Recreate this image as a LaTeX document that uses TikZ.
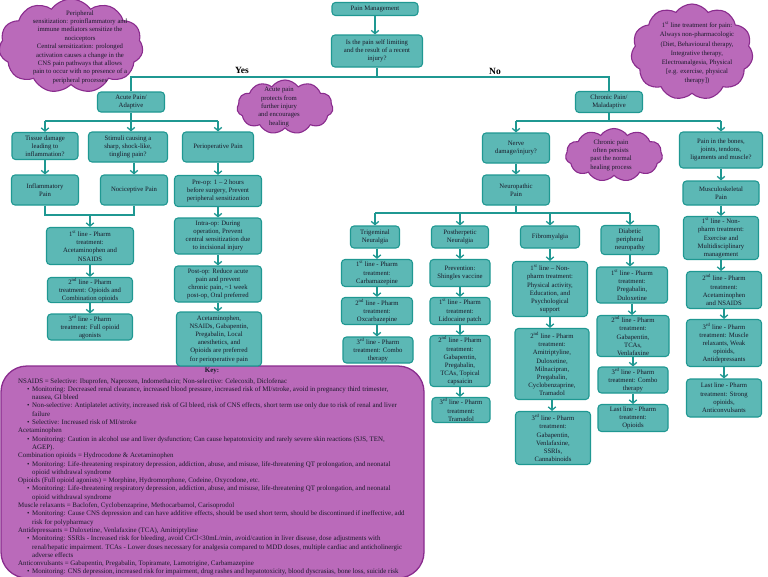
\documentclass[tikz,border=0pt]{standalone}
\usepackage{fontspec}
\setmainfont{Liberation Serif}
\usetikzlibrary{shapes.symbols,arrows.meta}
\definecolor{tealfill}{HTML}{5CB8B5}
\definecolor{tealline}{HTML}{1F9892}
\definecolor{purfill}{HTML}{BA6ABA}
\definecolor{purline}{HTML}{8A2C8E}
\definecolor{txt}{HTML}{1A1A2A}
\newcommand{\keybul}{\hspace*{9pt}\makebox[5pt][l]{\textbullet}}
\newcommand{\keyind}{\hspace*{14pt}}
\newcommand{\sps}[1]{\textsuperscript{#1}}
\begin{document}
\begin{tikzpicture}[x=1pt,y=-1pt,
 box/.style={draw=tealline, fill=tealfill, line width=1.1pt, rounded corners=3.5pt, align=center, inner sep=0.5pt, font=\fontsize{6.7}{8.2}\selectfont, text=txt},
 conn/.style={draw=tealline, line width=1.3pt},
 arr/.style={conn, -{Straight Barb[length=3.2pt,width=7.5pt]}},
 puff/.style={cloud, cloud puffs=11, cloud puff arc=110, cloud ignores aspect, draw=purline, fill=purfill, line width=1.1pt, inner sep=0pt},
 ctext/.style={align=center, font=\fontsize{6.7}{8.4}\selectfont, text=txt, inner sep=0pt},
 keybox/.style={draw=purline, fill=purfill, line width=1.3pt, rounded corners=26pt, inner sep=0pt},
 keytext/.style={align=left, font=\fontsize{6.9}{8.3}\selectfont, text=txt, inner sep=0pt},
 yn/.style={font=\fontsize{9.5}{10}\selectfont\bfseries, text=black, inner sep=0pt}
]
\fill[white] (0,0) rectangle (768,576);
\useasboundingbox (0,0) rectangle (768,576);

% clouds
\node[puff, minimum width=144pt, minimum height=94pt] (cl1) at (71,46) {};
\node[ctext] (cl1t) at (80,47) {Peripheral\\sensitization: proinflammatory and\\immune mediators sensitize the\\nociceptors\\Central sensitization: prolonged\\activation causes a change in the\\CNS pain pathways that allows\\pain to occur with no presence of a\\peripheral processes};
\node[puff, minimum width=96pt, minimum height=54pt] (cl2) at (285,107) {};
\node[ctext] (cl2t) at (279,107) {Acute pain\\protects from\\further injury\\and encourages\\healing};
\node[puff, minimum width=122pt, minimum height=96pt] (cl3) at (692,52) {};
\node[ctext, font=\fontsize{6.7}{9.1}\selectfont] (cl3t) at (697,53) {1\sps{st} line treatment for pain:\\Always non-pharmacologic\\(Diet, Behavioural therapy,\\Integrative therapy,\\Electroanalgesia, Physical\\{[e.g.} exercise, physical\\therapy])};
\node[puff, minimum width=97pt, minimum height=53pt] (cl4) at (614,155) {};
\node[ctext] (cl4t) at (611,155) {Chronic pain\\often persists\\past the normal\\healing process};

% key
\node[keybox, minimum width=423pt, minimum height=212pt] (key) at (212.5,472) {};
\node[keytext, font=\fontsize{6.9}{8.3}\selectfont\bfseries] (keyh) at (212,371) {Key:};
\node[keytext, anchor=north west] (keybody) at (18,378) {NSAIDS = Selective: Ibuprofen, Naproxen, Indomethacin; Non-selective: Celecoxib, Diclofenac\\
\keybul Monitoring: Decreased renal clearance, increased blood pressure, increased risk of MI/stroke, avoid in pregnancy third trimester,\\
\keyind nausea, GI bleed\\
\keybul Non-selective: Antiplatelet activity, increased risk of GI bleed, risk of CNS effects, short term use only due to risk of renal and liver\\
\keyind failure\\
\keybul Selective: Increased risk of MI/stroke\\
Acetaminophen\\
\keybul Monitoring: Caution in alcohol use and liver dysfunction; Can cause hepatotoxicity and rarely severe skin reactions (SJS, TEN,\\
\keyind AGEP).\\
Combination opioids = Hydrocodone \& Acetaminophen\\
\keybul Monitoring: Life-threatening respiratory depression, addiction, abuse, and misuse, life-threatening QT prolongation, and neonatal\\
\keyind opioid withdrawal syndrome\\
Opioids (Full opioid agonists) = Morphine, Hydromorphone, Codeine, Oxycodone, etc.\\
\keybul Monitoring: Life-threatening respiratory depression, addiction, abuse, and misuse, life-threatening QT prolongation, and neonatal\\
\keyind opioid withdrawal syndrome\\
Muscle relaxants = Baclofen, Cyclobenzaprine, Methocarbamol, Carisoprodol\\
\keybul Monitoring: Cause CNS depression and can have additive effects, should be used short term, should be discontinued if ineffective, add\\
\keyind risk for polypharmacy\\
Antidepressants = Duloxetine, Venlafaxine (TCA), Amitriptyline\\
\keybul Monitoring: SSRIs - Increased risk for bleeding, avoid CrCl<30mL/min, avoid/caution in liver disease, dose adjustments with\\
\keyind renal/hepatic impairment. TCAs - Lower doses necessary for analgesia compared to MDD doses, multiple cardiac and anticholinergic\\
\keyind adverse effects\\
Anticonvulsants = Gabapentin, Pregabalin, Topiramate, Lamotrigine, Carbamazepine\\
\keybul Monitoring: CNS depression, increased risk for impairment, drug rashes and hepatotoxicity, blood dyscrasias, bone loss, suicide risk};

% top
\node[box, minimum width=86pt, minimum height=13pt] (pm) at (375,9) {Pain Management};
\node[box, minimum width=91pt, minimum height=32pt] (q) at (377,51) {Is the pain self limiting\\and the result of a recent\\injury?};
\node[yn] (yes) at (242,70) {Yes};
\node[yn] (no) at (495,71) {No};

% acute side
\node[box, minimum width=67pt, minimum height=20pt] (acute) at (131,102) {Acute Pain/\\Adaptive};
\node[box, minimum width=66pt, minimum height=27pt] (tissue) at (45,146) {Tissue damage\\leading to\\inflammation?};
\node[box, minimum width=79pt, minimum height=30pt] (stim) at (128,147) {Stimuli causing a\\sharp, shock-like,\\tingling pain?};
\node[box, minimum width=71pt, minimum height=30pt] (peri) at (218,147) {Perioperative Pain};
\node[box, minimum width=67pt, minimum height=30pt] (infl) at (45,190) {Inflammatory\\Pain};
\node[box, minimum width=67pt, minimum height=30pt] (noci) at (134,190) {Nociceptive Pain};
\node[box, minimum width=87pt, minimum height=37pt] (a1) at (90,246) {1\sps{st} line - Pharm\\treatment:\\Acetaminophen and\\NSAIDS};
\node[box, minimum width=85pt, minimum height=25pt] (a2) at (90,290) {2\sps{nd} line - Pharm\\treatment: Opioids and\\Combination opioids};
\node[box, minimum width=85pt, minimum height=26pt] (a3) at (90,327) {3\sps{rd} line - Pharm\\treatment: Full opioid\\agonists};
\node[box, minimum width=87pt, minimum height=31pt] (pre) at (218,191) {Pre-op: 1 -- 2 hours\\before surgery, Prevent\\peripheral sensitization};
\node[box, minimum width=87pt, minimum height=36pt] (intra) at (218,236) {Intra-op: During\\operation, Prevent\\central sensitization due\\to incisional injury};
\node[box, minimum width=87pt, minimum height=36pt] (post) at (218,284) {Post-op: Reduce acute\\pain and prevent\\chronic pain, \textasciitilde1 week\\post-op, Oral preferred};
\node[box, minimum width=85pt, minimum height=54pt] (perid) at (219,339) {Acetaminophen,\\NSAIDs, Gabapentin,\\Pregabalin, Local\\anesthetics, and\\Opioids are preferred\\for perioperative pain};

% chronic side
\node[box, minimum width=67pt, minimum height=21pt] (chronic) at (609,102) {Chronic Pain/\\Maladaptive};
\node[box, minimum width=67pt, minimum height=30pt] (nerve) at (516,148) {Nerve\\damage/injury?};
\node[box, minimum width=67pt, minimum height=30pt] (neuro) at (516,190) {Neuropathic\\Pain};
\node[box, minimum width=83pt, minimum height=36pt] (bones) at (721,150) {Pain in the bones,\\joints, tendons,\\ligaments and muscle?};
\node[box, minimum width=76pt, minimum height=24pt] (musc) at (721,193) {Musculoskeletal\\Pain};
\node[box, minimum width=75pt, minimum height=43pt] (m1) at (721,238) {1\sps{st} line - Non-\\pharm treatment:\\Exercise and\\Multidisciplinary\\management};
\node[box, minimum width=75pt, minimum height=37pt] (m2) at (724,290) {2\sps{nd} line - Pharm\\treatment:\\Acetaminophen\\and NSAIDS};
\node[box, minimum width=75pt, minimum height=47pt] (m3) at (724,343) {3\sps{rd} line - Pharm\\treatment: Muscle\\relaxants, Weak\\opioids,\\Antidepressants};
\node[box, minimum width=75pt, minimum height=38pt] (m4) at (724,398) {Last line - Pharm\\treatment: Strong\\opioids,\\Anticonvulsants};

\node[box, minimum width=49pt, minimum height=22pt] (trig) at (375,237) {Trigeminal\\Neuralgia};
\node[box, minimum width=71pt, minimum height=27pt] (t1) at (377,273) {1\sps{st} line - Pharm\\treatment:\\Carbamazepine};
\node[box, minimum width=71pt, minimum height=27pt] (t2) at (377,311) {2\sps{nd} line - Pharm\\treatment:\\Oxcarbazepine};
\node[box, minimum width=70pt, minimum height=26pt] (t3) at (378,350) {3\sps{rd} line - Pharm\\treatment: Combo\\therapy};
\node[box, minimum width=57pt, minimum height=22pt] (ph) at (460,237) {Postherpetic\\Neuralgia};
\node[box, minimum width=60pt, minimum height=27pt] (p0) at (460,273) {Prevention:\\Shingles vaccine};
\node[box, minimum width=60pt, minimum height=27pt] (p1) at (460,311) {1\sps{st} line - Pharm\\treatment:\\Lidocaine patch};
\node[box, minimum width=60pt, minimum height=51pt] (p2) at (460,361) {2\sps{nd} line - Pharm\\treatment:\\Gabapentin,\\Pregabalin,\\TCAs, Topical\\capsaicin};
\node[box, minimum width=58pt, minimum height=25pt] (p3) at (461,410) {3\sps{rd} line - Pharm\\treatment:\\Tramadol};
\node[box, minimum width=59pt, minimum height=22pt] (fib) at (550,237) {Fibromyalgia};
\node[box, minimum width=75pt, minimum height=55pt] (f1) at (550,289) {1\sps{st} line -- Non-\\pharm treatment:\\Physical activity,\\Education, and\\Psychological\\support};
\node[box, minimum width=74pt, minimum height=71pt] (f2) at (552,364) {2\sps{nd} line - Pharm\\treatment:\\Amitriptyline,\\Duloxetine,\\Milnacipran,\\Pregabalin,\\Cyclobenzaprine,\\Tramadol};
\node[box, minimum width=75pt, minimum height=53pt] (f3) at (553,438) {3\sps{rd} line - Pharm\\treatment:\\Gabapentin,\\Venlafaxine,\\SSRIs,\\Cannabinoids};
\node[box, minimum width=58pt, minimum height=29pt] (dia) at (630,240) {Diabetic\\peripheral\\neuropathy};
\node[box, minimum width=71pt, minimum height=36pt] (d1) at (632,285) {1\sps{st} line - Pharm\\treatment:\\Pregabalin,\\Duloxetine};
\node[box, minimum width=72pt, minimum height=41pt] (d2) at (633,336) {2\sps{nd} line - Pharm\\treatment:\\Gabapentin,\\TCAs,\\Venlafaxine};
\node[box, minimum width=70pt, minimum height=26pt] (d3) at (633,380) {3\sps{rd} line - Pharm\\treatment: Combo\\therapy};
\node[box, minimum width=70pt, minimum height=27pt] (d4) at (633,418) {Last line - Pharm\\treatment:\\Opioids};

% connectors top
\coordinate (ybar) at (376,77);
\draw[arr] (pm.south) -- (pm.south |- q.north);
\draw[conn] (q.south) -- (q.south |- ybar);
\draw[conn] (acute.north) -- (acute.north |- ybar) -- (chronic.north |- ybar) -- (chronic.north);

% acute connectors
\coordinate (abar) at (0,121);
\draw[conn] (acute.south) -- (acute.south |- abar);
\draw[conn] (tissue.north |- abar) -- (peri.north |- abar);
\draw[arr] (tissue.north |- abar) -- (tissue.north);
\draw[arr] (acute.south |- abar) -- (acute.south |- stim.north);
\draw[arr] (peri.north |- abar) -- (peri.north);
\draw[arr] (tissue.south) -- (infl.north);
\draw[arr] (stim.south -| noci.north) -- (noci.north);
\coordinate (ibar) at (0,215);
\draw[conn] (infl.south) -- (infl.south |- ibar) -- (noci.south |- ibar) -- (noci.south);
\draw[arr] (a1.north |- ibar) -- (a1.north);
\draw[arr] (a1.south) -- (a1.south |- a2.north);
\draw[arr] (a2.south) -- (a2.south |- a3.north);
\draw[arr] (peri.south) -- (peri.south |- pre.north);
\draw[arr] (pre.south) -- (pre.south |- intra.north);
\draw[arr] (intra.south) -- (intra.south |- post.north);
\draw[arr] (post.south) -- (post.south |- perid.north);

% chronic connectors
\coordinate (cbar) at (0,121);
\draw[conn] (chronic.south) -- (chronic.south |- cbar);
\draw[conn] (nerve.north |- cbar) -- (bones.north |- cbar);
\draw[arr] (nerve.north |- cbar) -- (nerve.north);
\draw[arr] (bones.north |- cbar) -- (bones.north);
\draw[arr] (nerve.south) -- (neuro.north);
\draw[arr] (bones.south) -- (bones.south |- musc.north);
\draw[arr] (musc.south) -- (musc.south |- m1.north);
\draw[arr] (m1.south) -- (m1.south |- m2.north);
\draw[arr] (m2.south) -- (m2.south |- m3.north);
\draw[arr] (m3.south) -- (m3.south |- m4.north);

\coordinate (nbar) at (0,213);
\draw[conn] (neuro.south) -- (neuro.south |- nbar);
\draw[conn] (trig.north |- nbar) -- (dia.north |- nbar);
\draw[arr] (trig.north |- nbar) -- (trig.north);
\draw[arr] (ph.north |- nbar) -- (ph.north);
\draw[arr] (fib.north |- nbar) -- (fib.north);
\draw[arr] (dia.north |- nbar) -- (dia.north);

\draw[arr] (trig.south -| t1.north) -- (t1.north);
\draw[arr] (t1.south) -- (t1.south |- t2.north);
\draw[arr] (t2.south) -- (t2.south |- t3.north);
\draw[arr] (ph.south) -- (ph.south |- p0.north);
\draw[arr] (p0.south) -- (p0.south |- p1.north);
\draw[arr] (p1.south) -- (p1.south |- p2.north);
\draw[arr] (p2.south) -- (p2.south |- p3.north);
\draw[arr] (fib.south) -- (fib.south |- f1.north);
\draw[arr] (f1.south) -- (f1.south |- f2.north);
\draw[arr] (f2.south) -- (f2.south |- f3.north);
\draw[arr] (dia.south) -- (dia.south |- d1.north);
\draw[arr] (d1.south) -- (d1.south |- d2.north);
\draw[arr] (d2.south) -- (d2.south |- d3.north);
\draw[arr] (d3.south) -- (d3.south |- d4.north);
\end{tikzpicture}
\end{document}
